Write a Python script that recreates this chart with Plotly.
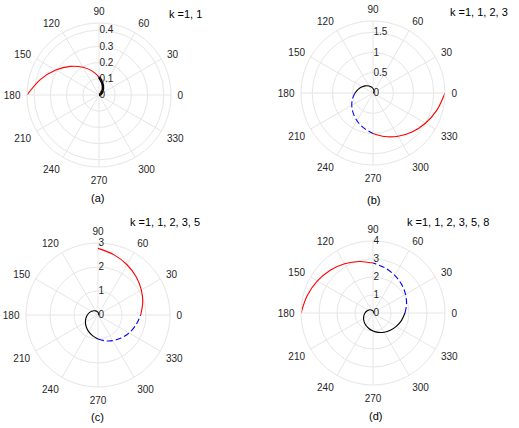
"""Fibonacci-style spiral drawn on four polar panels (a)-(d)."""

import plotly.graph_objects as go

# Spiral: angle (deg) and radius every 15 deg
spiral_theta = [0, 15, 30, 45, 60, 75, 90, 105, 120, 135, 150, 165, 180,
                195, 210, 225, 240, 255, 270, 285, 300, 315, 330, 345, 360,
                375, 390, 405, 420, 435, 450, 465, 480, 495, 510, 525, 540]
spiral_r = [0.0, 0.003, 0.012, 0.028, 0.049, 0.077, 0.111, 0.151, 0.197,
            0.25, 0.308, 0.373, 0.444, 0.521, 0.605, 0.694, 0.79, 0.891,
            0.999, 1.113, 1.234, 1.36, 1.493, 1.632, 1.777, 1.928, 2.085,
            2.248, 2.418, 2.594, 2.776, 2.964, 3.158, 3.359, 3.565, 3.778,
            3.997]

k_labels = ["k =1, 1", "k =1, 1, 2, 3", "k =1, 1, 2, 3, 5", "k =1, 1, 2, 3, 5, 8"]
panel_letters = ["(a)", "(b)", "(c)", "(d)"]
quarter_turns = [2, 4, 5, 6]
r_max = [0.444, 1.777, 3, 4]
r_ticks = [[0, 0.1, 0.2, 0.3, 0.4], [0, 0.5, 1, 1.5], [0, 1, 2, 3], [0, 1, 2, 3, 4]]
angle_ticks = list(range(0, 360, 30))

W, H = 519, 428
RAD = 72
centers = [(99, 95), (373, 93), (98, 315), (373, 313)]
k_pos = [(167, 14), (448, 12), (128, 222), (405, 222)]
letter_pos = [(97, 198), (373, 200), (97, 417), (375, 416)]

FONT = "Arial, Liberation Sans, sans-serif"
GRID = "#e6e6e6"


def seg(lo, hi):
    """Slice the spiral between two angles (deg)."""
    idx = [i for i, t in enumerate(spiral_theta) if lo <= t <= hi]
    return [spiral_theta[i] for i in idx], [spiral_r[i] for i in idx]


def px(x, y):
    """Screen pixel -> paper coords."""
    return x / W, 1 - y / H


fig = go.Figure()
layout = {}

for p in range(4):
    name = "polar" if p == 0 else f"polar{p + 1}"
    n = quarter_turns[p]
    end = n * 90
    if n == 2:
        pieces = [(0, 90, "black", 2.6, "solid"), (90, 180, "red", 1.1, "solid")]
    else:
        pieces = [
            (0, end - 180, "black", 1.1, "solid"),
            (end - 180, end - 90, "blue", 1.1, "6px,3px"),
            (end - 90, end, "red", 1.1, "solid"),
        ]
    for lo, hi, color, width, dash in pieces:
        th, rr = seg(lo, hi)
        fig.add_trace(go.Scatterpolar(
            theta=th, r=rr, mode="lines", subplot=name,
            line=dict(color=color, width=width, dash=dash, shape="spline"),
            showlegend=False, hoverinfo="skip",
        ))

    cx, cy = centers[p]
    x0, y1 = px(cx - RAD, cy - RAD)
    x1, y0 = px(cx + RAD, cy + RAD)
    layout[name] = dict(
        domain=dict(x=[x0, x1], y=[y0, y1]),
        bgcolor="white",
        angularaxis=dict(
            direction="counterclockwise", rotation=0,
            tickmode="array", tickvals=angle_ticks,
            ticktext=[str(a) for a in angle_ticks],
            ticks="outside", ticklen=4, tickcolor="rgba(0,0,0,0)",
            showline=True, linecolor=GRID, linewidth=1,
            gridcolor=GRID, gridwidth=1,
            tickfont=dict(family=FONT, size=10, color="#262626"),
        ),
        radialaxis=dict(
            range=[0, r_max[p]], tickmode="array", tickvals=r_ticks[p],
            ticktext=[f"{v:g}" for v in r_ticks[p]],
            angle=90, tickangle=90, showline=False, ticks="",
            gridcolor=GRID, gridwidth=1,
            tickfont=dict(family=FONT, size=10, color="#262626"),
        ),
    )

annotations = []
for p in range(4):
    kx, ky = px(*k_pos[p])
    annotations.append(dict(
        text=k_labels[p], x=kx, y=ky, xref="paper", yref="paper",
        xanchor="left", yanchor="middle", showarrow=False,
        font=dict(family=FONT, size=11, color="black"),
    ))
    lx, ly = px(*letter_pos[p])
    annotations.append(dict(
        text=panel_letters[p], x=lx, y=ly, xref="paper", yref="paper",
        xanchor="center", yanchor="middle", showarrow=False,
        font=dict(family=FONT, size=11, color="black"),
    ))

fig.update_layout(
    **layout,
    width=W, height=H,
    margin=dict(l=0, r=0, t=0, b=0),
    paper_bgcolor="white",
    showlegend=False,
    annotations=annotations,
)

# drop the browser's default 8px body margin so the figure fills the window
fig.write_html(
    "out.html",
    config={"displayModeBar": False},
    post_script="document.body.style.margin = '0px';",
)
